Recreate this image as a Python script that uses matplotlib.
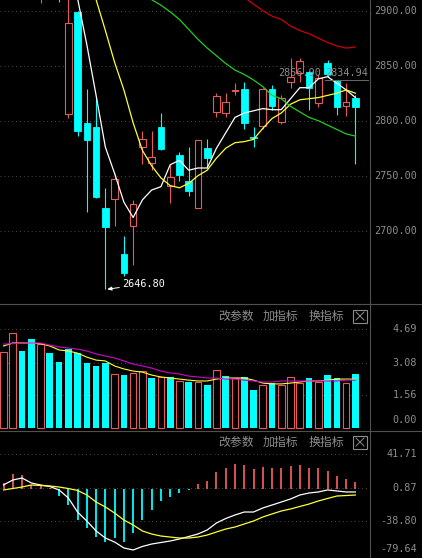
import numpy as np
import matplotlib
matplotlib.use("Agg")
import matplotlib.pyplot as plt
import matplotlib.transforms as mtransforms
from matplotlib.patches import Rectangle
from matplotlib.lines import Line2D

nan = np.nan

# daily candles (first 7 sit above the visible price range)
opens = [2950, 2955, 2965, 2945, 2925, 2950, 2935, 2806, 2899, 2798, 2794, 2721, 2729, 2679,
         2704, 2776, 2762, 2794, 2741, 2769, 2745, 2721, 2775, 2808, 2807, 2827, 2829, 2785,
         2795, 2829, 2799, 2835, 2843, 2844, 2816, 2852, 2836, 2813, 2821]
highs = [2960, 2975, 2970, 2950, 2950, 2955, 2940, 2920, 2900, 2829, 2821, 2739, 2752, 2695,
         2728, 2791, 2791, 2807, 2760, 2772, 2776, 2782, 2783, 2825, 2825, 2834, 2835, 2794,
         2830, 2832, 2823, 2857, 2857, 2845, 2842, 2855, 2837, 2834, 2823]
lows = [2930, 2940, 2935, 2920, 2907, 2925, 2908, 2802, 2786, 2717, 2730, 2646.8, 2704, 2659,
        2669, 2761, 2755, 2773, 2725, 2745, 2732, 2721, 2757, 2803, 2803, 2823, 2792, 2776,
        2792, 2810, 2797, 2830, 2835, 2810, 2812, 2840, 2805, 2804, 2761]
closes = [2955, 2970, 2940, 2925, 2945, 2930, 2915, 2889, 2791, 2782, 2731, 2703, 2747, 2662,
          2724, 2783, 2767, 2774, 2749, 2751, 2736, 2782, 2766, 2822, 2817, 2828, 2798, 2784,
          2829, 2813, 2821, 2840, 2854, 2830, 2839, 2842, 2812, 2817, 2812]

ma5 = [nan] * 7 + [2940, 2911, 2869, 2823, 2776, 2752, 2726, 2712, 2728, 2737, 2740, 2760, 2764,
                   2755, 2757, 2757, 2775, 2789, 2803, 2807, 2809, 2811, 2810, 2810, 2820, 2830,
                   2830, 2838, 2840, 2834, 2828, 2821]
ma10 = [nan] * 9 + [2930, 2910, 2882, 2853, 2828, 2798, 2773, 2759, 2748, 2741, 2739, 2743, 2750,
                    2755, 2766, 2775, 2780, 2781, 2783, 2793, 2802, 2807, 2815, 2819, 2820, 2821,
                    2823, 2825, 2828, 2825]
ma20 = [nan] * 15 + [2918, 2910, 2905, 2899, 2892, 2883, 2874, 2866, 2859, 2852, 2846, 2842, 2837,
                     2831, 2823, 2820, 2813, 2808, 2803, 2800, 2796, 2792, 2788, 2786]
ma60 = [nan] * 25 + [2920, 2912, 2906, 2900, 2895, 2892, 2886, 2882, 2879, 2875, 2871, 2868, 2866, 2867]

# volume (red = close above previous close)
volume = [3.60, 4.50, 3.65, 4.22, 3.98, 3.55, 3.13, 3.74, 3.55, 3.08, 2.94, 3.08, 2.56, 2.51,
          2.60, 2.70, 2.37, 2.42, 2.42, 2.23, 2.18, 2.18, 2.04, 2.75, 2.46, 2.37, 2.42, 1.80,
          2.04, 2.13, 2.04, 2.42, 2.13, 2.37, 2.18, 2.51, 2.37, 2.13, 2.56]
vol_up = [1, 1, 0, 0, 1, 0, 0, 0, 0, 0, 0, 0, 1, 0, 1, 1, 0, 1, 0, 1, 0, 1, 0, 1, 0, 1, 0, 0,
          1, 0, 1, 1, 1, 0, 1, 0, 0, 1, 0]
vol_ma5 = [3.89, 4.03, 4.03, 4.03, 4.00, 3.89, 3.70, 3.65, 3.55, 3.36, 3.22, 3.18, 2.94, 2.80,
           2.70, 2.65, 2.51, 2.42, 2.37, 2.32, 2.27, 2.23, 2.23, 2.32, 2.37, 2.37, 2.37, 2.27,
           2.13, 2.09, 2.09, 2.13, 2.18, 2.23, 2.23, 2.27, 2.32, 2.32, 2.32]
vol_ma10 = [3.98, 4.00, 4.03, 4.03, 4.03, 3.93, 3.84, 3.79, 3.74, 3.65, 3.51, 3.41, 3.32, 3.18,
            3.03, 2.94, 2.84, 2.70, 2.61, 2.56, 2.46, 2.42, 2.37, 2.37, 2.32, 2.32, 2.27, 2.23,
            2.18, 2.18, 2.23, 2.23, 2.23, 2.23, 2.23, 2.23, 2.23, 2.27, 2.27]

# MACD
dif = [4.4, 10.3, 12.7, 6.8, 4.4, 2.6, -1.5, -11, -27.7, -38.4, -50.2, -58.6, -63.3, -70.4,
       -72.8, -68.6, -65.7, -63.9, -62.1, -59.7, -56.8, -53.8, -49, -40.7, -35.4, -31.2, -27.7,
       -27.7, -22.9, -19.4, -15.8, -12.2, -7.5, -5.1, -3.9, -1.5, -2.7, -3.9, -3.9]
dea = [-1.5, 0.2, 2, 4.4, 3.8, 3.2, 2, 0.2, -2.1, -7.5, -15.8, -21.7, -28.9, -37.2, -43.1,
       -50.2, -53.8, -56.2, -57.4, -58.6, -58.6, -57.4, -55, -51.4, -47.9, -45.5, -41.9, -38.4,
       -33.6, -30, -26.5, -24.1, -21.1, -18.2, -14.6, -11.6, -8.7, -8.1, -7.5]
macd = [6.8, 17.5, 16.3, 4.4, 3.5, 0.8, -8.7, -19.4, -37, -46.7, -57, -63, -58.5, -63, -52.6,
        -37, -25, -14.6, -9.9, -5.5, -1.5, 5.6, 9.5, 19.9, 24.6, 29.3, 28.1, 23.4, 25.8, 24.6,
        24.6, 27, 28.1, 24.6, 24, 21, 15, 11.5, 8]

price_ticks = [2900, 2850, 2800, 2750, 2700]
vol_ticks = [4.69, 3.08, 1.56, 0.00]
macd_ticks = [41.71, 0.87, -38.80, -79.64]

RED = "#e85a5a"
CYAN = "#00ffff"
GREY = "#8c8c8c"
LINE = "#505050"

W, H = 422, 558
fig = plt.figure(figsize=(W / 100, H / 100), dpi=100, facecolor="black")
x = np.arange(len(closes))


def panel(top, bottom):
    ax = fig.add_axes([0, 1 - bottom / H, 369 / W, (bottom - top) / H])
    ax.set_facecolor("black")
    ax.set_xlim(-0.378, 39.47)
    for s in ax.spines.values():
        s.set_visible(False)
    ax.set_xticks([])
    ax.set_yticks([])
    return ax


def grid(ax, vals):
    for v in vals:
        ax.axhline(v, color="#4c4c4c", lw=0.7, ls=(0, (1, 3)), zorder=0)


def right_labels(ax, vals, texts, shift=None):
    for k, (v, t) in enumerate(zip(vals, texts)):
        tr = mtransforms.blended_transform_factory(fig.transFigure, ax.transData)
        if shift and k in shift:
            tr = mtransforms.offset_copy(tr, fig=fig, y=shift[k], units="dots")
        ax.text(417 / W, v, t, transform=tr, ha="right", va="center", color=GREY,
                family="DejaVu Sans Mono", fontsize=7.3, clip_on=False)


ax1 = panel(0, 303)
ax1.set_ylim(2634.3, 2909.7)
ax2 = panel(304, 430)
ax2.set_ylim(-0.095, 5.88)
ax3 = panel(431, 558)
ax3.set_ylim(-82.3, 68.5)

# --- price panel
grid(ax1, price_ticks)
bw = 0.72
for i in x:
    o, h, l, c = opens[i], highs[i], lows[i], closes[i]
    if c >= o:
        ax1.vlines(i, l, h, color=RED, lw=0.8, zorder=2)
        ax1.add_patch(Rectangle((i - bw / 2, o), bw, max(c - o, 0.5), facecolor="black",
                                edgecolor=RED, lw=0.8, zorder=3))
    else:
        ax1.vlines(i, l, h, color=CYAN, lw=0.8, zorder=2)
        ax1.add_patch(Rectangle((i - bw / 2, c), bw, o - c, facecolor=CYAN,
                                edgecolor=CYAN, lw=0.6, zorder=3))

ax1.plot(x, ma5, color="white", lw=0.9, zorder=4)
ax1.plot(x, ma10, color="#ffff33", lw=0.9, zorder=4)
ax1.plot(x, ma20, color="#22cc22", lw=0.9, zorder=4)
ax1.plot(x, ma60, color="#d00000", lw=0.9, zorder=4)

ax1.annotate("2646.80", xy=(11.2, 2646.8), xytext=(12.8, 2651.5), color="white",
             family="DejaVu Sans Mono", fontsize=7.3, va="center", ha="left",
             arrowprops=dict(arrowstyle="-|>,head_length=0.35,head_width=0.15",
                             color="white", lw=0.7, shrinkA=0, shrinkB=0))
ax1.text(29.7, 2843.5, "2856.90", color=GREY, family="DejaVu Sans Mono", fontsize=7.3,
         va="center", ha="left", zorder=5)
ax1.text(39.4, 2843.5, "2834.94", color=GREY, family="DejaVu Sans Mono", fontsize=7.3,
         va="center", ha="right", zorder=5)
ax1.plot([34.7, 39.47], [2837, 2837], color="#6a6a6a", lw=0.7, zorder=5)
right_labels(ax1, price_ticks, ["%.2f" % p for p in price_ticks])

# --- volume panel
grid(ax2, vol_ticks[:3])
for i in x:
    if vol_up[i]:
        ax2.bar(i, volume[i], width=bw, facecolor="black", edgecolor=RED, lw=0.8, zorder=2)
    else:
        ax2.bar(i, volume[i], width=bw, color=CYAN, lw=0, zorder=2)
ax2.plot(x, vol_ma5, color="#ffff33", lw=0.8, zorder=3)
ax2.plot(x, vol_ma10, color="#d000d0", lw=0.8, zorder=3)
right_labels(ax2, vol_ticks, ["%.2f" % v for v in vol_ticks], shift={3: 8})

# --- MACD panel
grid(ax3, macd_ticks[:3])
hist_col = [RED if v > 0 else CYAN for v in macd]
ax3.vlines(x, 0, macd, colors=hist_col, lw=1.3, zorder=2)
ax3.plot(x, dif, color="white", lw=0.9, zorder=3)
ax3.plot(x, dea, color="#ffff33", lw=0.9, zorder=3)
right_labels(ax3, macd_ticks, ["%.2f" % v for v in macd_ticks], shift={3: 7})

# panel separators and right scale border
for yy in (303.5, 430.5):
    fig.add_artist(Line2D([0, 1], [1 - yy / H] * 2, color=LINE, lw=0.8))
fig.add_artist(Line2D([369.5 / W] * 2, [0, 1], color=LINE, lw=0.8))

# indicator buttons
for yc in (316, 442):
    for xx, t in zip((218, 263, 309), ("改参数", "加指标", "换指标")):
        fig.text(xx / W, 1 - yc / H, t, color=GREY, fontsize=8.6, va="center", ha="left",
                 family=["Noto Sans CJK SC", "DejaVu Sans"])
    fig.add_artist(Rectangle((353 / W, 1 - (yc + 7) / H), 14 / W, 13 / H, fill=False,
                             edgecolor=GREY, lw=0.8, transform=fig.transFigure))
    fig.add_artist(Line2D([356 / W, 364 / W], [1 - (yc - 4) / H, 1 - (yc + 4) / H],
                          color=GREY, lw=0.7))
    fig.add_artist(Line2D([356 / W, 364 / W], [1 - (yc + 4) / H, 1 - (yc - 4) / H],
                          color=GREY, lw=0.7))

fig.savefig("out.png", dpi=100, facecolor="black")
